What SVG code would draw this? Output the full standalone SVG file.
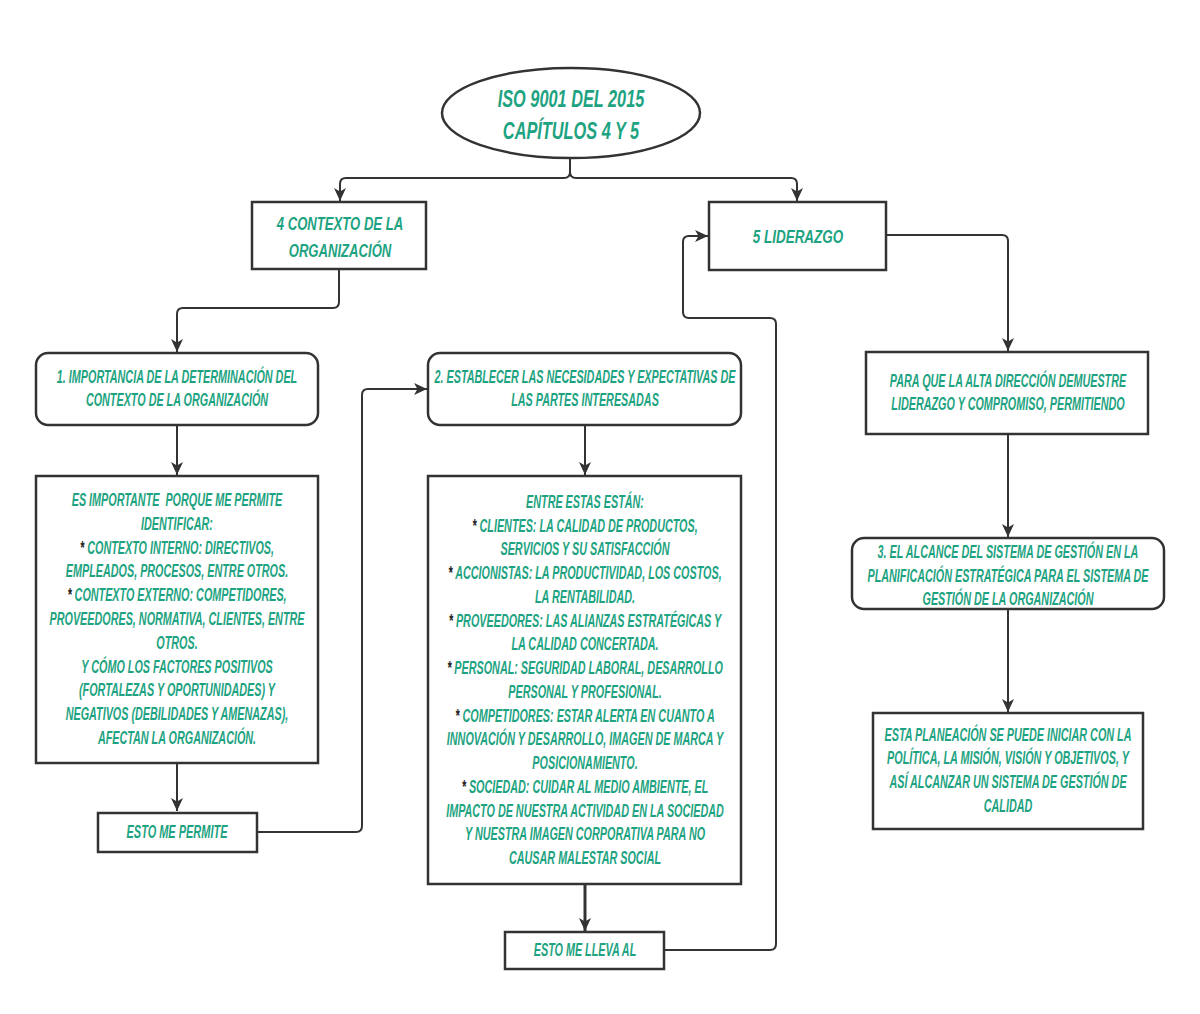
<svg xmlns="http://www.w3.org/2000/svg" width="1200" height="1014" viewBox="0 0 1200 1014">
<defs>
<marker id="arr" markerUnits="userSpaceOnUse" markerWidth="14" markerHeight="14" refX="13" refY="7" orient="auto">
<path d="M0,1 L13,7 L0,13 L3.5,7 Z" fill="#333"/>
</marker>
<style>
.box{fill:#fff;stroke:#333;stroke-width:2.5}
.ln{fill:none;stroke:#333;stroke-width:2}
.t{font-family:"Liberation Sans",Arial,sans-serif;font-weight:bold;font-style:italic;font-size:18px;fill:#1da381;text-anchor:middle}
.h{font-size:19px}
.ti{font-size:24px}
.s{fill:#222}
</style>
</defs>
<rect width="1200" height="1014" fill="#fff"/>

<g id="connectors">
<path class="ln" d="M570,158 V172 Q570,178 564,178 H346 Q340,178 340,184 V201" marker-end="url(#arr)"/>
<path class="ln" d="M570,172 Q570,178 576,178 H791 Q797,178 797,184 V201" marker-end="url(#arr)"/>
<path class="ln" d="M339,269 V302 Q339,308 333,308 H183 Q177,308 177,314 V352" marker-end="url(#arr)"/>
<path class="ln" d="M177,425 V475" marker-end="url(#arr)"/>
<path class="ln" d="M177,763 V811" marker-end="url(#arr)"/>
<path class="ln" d="M257,832 H356 Q362,832 362,826 V395 Q362,389 368,389 H427" marker-end="url(#arr)"/>
<path class="ln" d="M585,425 V475" marker-end="url(#arr)"/>
<path class="ln" style="stroke-width:3" d="M585,884 V931" marker-end="url(#arr)"/>
<path class="ln" d="M664,950 H770 Q776,950 776,944 V324 Q776,318 770,318 H689 Q683,318 683,312 V242 Q683,236 689,236 H708" marker-end="url(#arr)"/>
<path class="ln" d="M886,235 H1002 Q1008,235 1008,241 V351" marker-end="url(#arr)"/>
<path class="ln" d="M1008,434 V537" marker-end="url(#arr)"/>
<path class="ln" d="M1008,609 V712" marker-end="url(#arr)"/>
</g>

<g id="n-title">
<ellipse class="box" cx="571" cy="113" rx="129" ry="45"/>
<g transform="translate(571,0) scale(0.68,1)">
<text class="t ti" x="0" y="107">ISO 9001 DEL 2015</text>
<text class="t ti" x="0" y="139">CAPÍTULOS 4 Y 5</text>
</g>
</g>

<g id="n-contexto">
<rect class="box" x="252" y="202" width="174" height="67"/>
<g transform="translate(340,0) scale(0.69,1)">
<text class="t h" x="0" y="230">4 CONTEXTO DE LA</text>
<text class="t h" x="0" y="257">ORGANIZACIÓN</text>
</g>
</g>

<g id="n-liderazgo">
<rect class="box" x="709" y="202" width="177" height="68"/>
<g transform="translate(798,0) scale(0.71,1)">
<text class="t h" x="0" y="243">5 LIDERAZGO</text>
</g>
</g>

<g id="n-importancia">
<rect class="box" x="36" y="353" width="282" height="72" rx="12"/>
<g transform="translate(177,0) scale(0.6,1)">
<text class="t" x="0" y="383">1. IMPORTANCIA DE LA DETERMINACIÓN DEL</text>
<text class="t" x="0" y="406">CONTEXTO DE LA ORGANIZACIÓN</text>
</g>
</g>

<g id="n-establecer">
<rect class="box" x="428" y="353" width="313" height="72" rx="12"/>
<g transform="translate(585,0) scale(0.6,1)">
<text class="t" x="0" y="383">2. ESTABLECER LAS NECESIDADES Y EXPECTATIVAS DE</text>
<text class="t" x="0" y="406">LAS PARTES INTERESADAS</text>
</g>
</g>

<g id="n-importante">
<rect class="box" x="36" y="476" width="282" height="287"/>
<g transform="translate(177,0) scale(0.6,1)">
<text class="t" x="0" y="506" xml:space="preserve">ES IMPORTANTE  PORQUE ME PERMITE</text>
<text class="t" x="0" y="530">IDENTIFICAR:</text>
<text class="t" x="0" y="554"><tspan class="s">*</tspan> CONTEXTO INTERNO: DIRECTIVOS,</text>
<text class="t" x="0" y="577">EMPLEADOS, PROCESOS, ENTRE OTROS.</text>
<text class="t" x="0" y="601"><tspan class="s">*</tspan> CONTEXTO EXTERNO: COMPETIDORES,</text>
<text class="t" x="0" y="625">PROVEEDORES, NORMATIVA, CLIENTES, ENTRE</text>
<text class="t" x="0" y="649">OTROS.</text>
<text class="t" x="0" y="673">Y CÓMO LOS FACTORES POSITIVOS</text>
<text class="t" x="0" y="696">(FORTALEZAS Y OPORTUNIDADES) Y</text>
<text class="t" x="0" y="720">NEGATIVOS (DEBILIDADES Y AMENAZAS),</text>
<text class="t" x="0" y="744">AFECTAN LA ORGANIZACIÓN.</text>
</g>
</g>

<g id="n-entre">
<rect class="box" x="428" y="476" width="313" height="408"/>
<g transform="translate(585,0) scale(0.6,1)">
<text class="t" x="0" y="508">ENTRE ESTAS ESTÁN:</text>
<text class="t" x="0" y="531.75"><tspan class="s">*</tspan> CLIENTES: LA CALIDAD DE PRODUCTOS,</text>
<text class="t" x="0" y="555.5">SERVICIOS Y SU SATISFACCIÓN</text>
<text class="t" x="0" y="579.25"><tspan class="s">*</tspan> ACCIONISTAS: LA PRODUCTIVIDAD, LOS COSTOS,</text>
<text class="t" x="0" y="603">LA RENTABILIDAD.</text>
<text class="t" x="0" y="626.75"><tspan class="s">*</tspan> PROVEEDORES: LAS ALIANZAS ESTRATÉGICAS Y</text>
<text class="t" x="0" y="650.5">LA CALIDAD CONCERTADA.</text>
<text class="t" x="0" y="674.25"><tspan class="s">*</tspan> PERSONAL: SEGURIDAD LABORAL, DESARROLLO</text>
<text class="t" x="0" y="698">PERSONAL Y PROFESIONAL.</text>
<text class="t" x="0" y="721.75"><tspan class="s">*</tspan> COMPETIDORES: ESTAR ALERTA EN CUANTO A</text>
<text class="t" x="0" y="745.5">INNOVACIÓN Y DESARROLLO, IMAGEN DE MARCA Y</text>
<text class="t" x="0" y="769.25">POSICIONAMIENTO.</text>
<text class="t" x="0" y="793"><tspan class="s">*</tspan> SOCIEDAD: CUIDAR AL MEDIO AMBIENTE, EL</text>
<text class="t" x="0" y="816.75">IMPACTO DE NUESTRA ACTIVIDAD EN LA SOCIEDAD</text>
<text class="t" x="0" y="840.5">Y NUESTRA IMAGEN CORPORATIVA PARA NO</text>
<text class="t" x="0" y="864.25">CAUSAR MALESTAR SOCIAL</text>
</g>
</g>

<g id="n-permite">
<rect class="box" x="98" y="813" width="159" height="39"/>
<g transform="translate(177,0) scale(0.61,1)">
<text class="t" x="0" y="838">ESTO ME PERMITE</text>
</g>
</g>

<g id="n-lleva">
<rect class="box" x="505" y="932" width="159" height="37"/>
<g transform="translate(585,0) scale(0.6,1)">
<text class="t" x="0" y="956">ESTO ME LLEVA AL</text>
</g>
</g>

<g id="n-paraque">
<rect class="box" x="866" y="352" width="282" height="82"/>
<g transform="translate(1008,0) scale(0.6,1)">
<text class="t" x="0" y="387">PARA QUE LA ALTA DIRECCIÓN DEMUESTRE</text>
<text class="t" x="0" y="410">LIDERAZGO Y COMPROMISO, PERMITIENDO</text>
</g>
</g>

<g id="n-alcance">
<rect class="box" x="852" y="538" width="312" height="71" rx="12"/>
<g transform="translate(1008,0) scale(0.6,1)">
<text class="t" x="0" y="558">3. EL ALCANCE DEL SISTEMA DE GESTIÓN EN LA</text>
<text class="t" x="0" y="582">PLANIFICACIÓN ESTRATÉGICA PARA EL SISTEMA DE</text>
<text class="t" x="0" y="605">GESTIÓN DE LA ORGANIZACIÓN</text>
</g>
</g>

<g id="n-planeacion">
<rect class="box" x="873" y="713" width="270" height="116"/>
<g transform="translate(1008,0) scale(0.6,1)">
<text class="t" x="0" y="741">ESTA PLANEACIÓN SE PUEDE INICIAR CON LA</text>
<text class="t" x="0" y="764">POLÍTICA, LA MISIÓN, VISIÓN Y OBJETIVOS, Y</text>
<text class="t" x="0" y="788">ASÍ ALCANZAR UN SISTEMA DE GESTIÓN DE</text>
<text class="t" x="0" y="812">CALIDAD</text>
</g>
</g>
</svg>
